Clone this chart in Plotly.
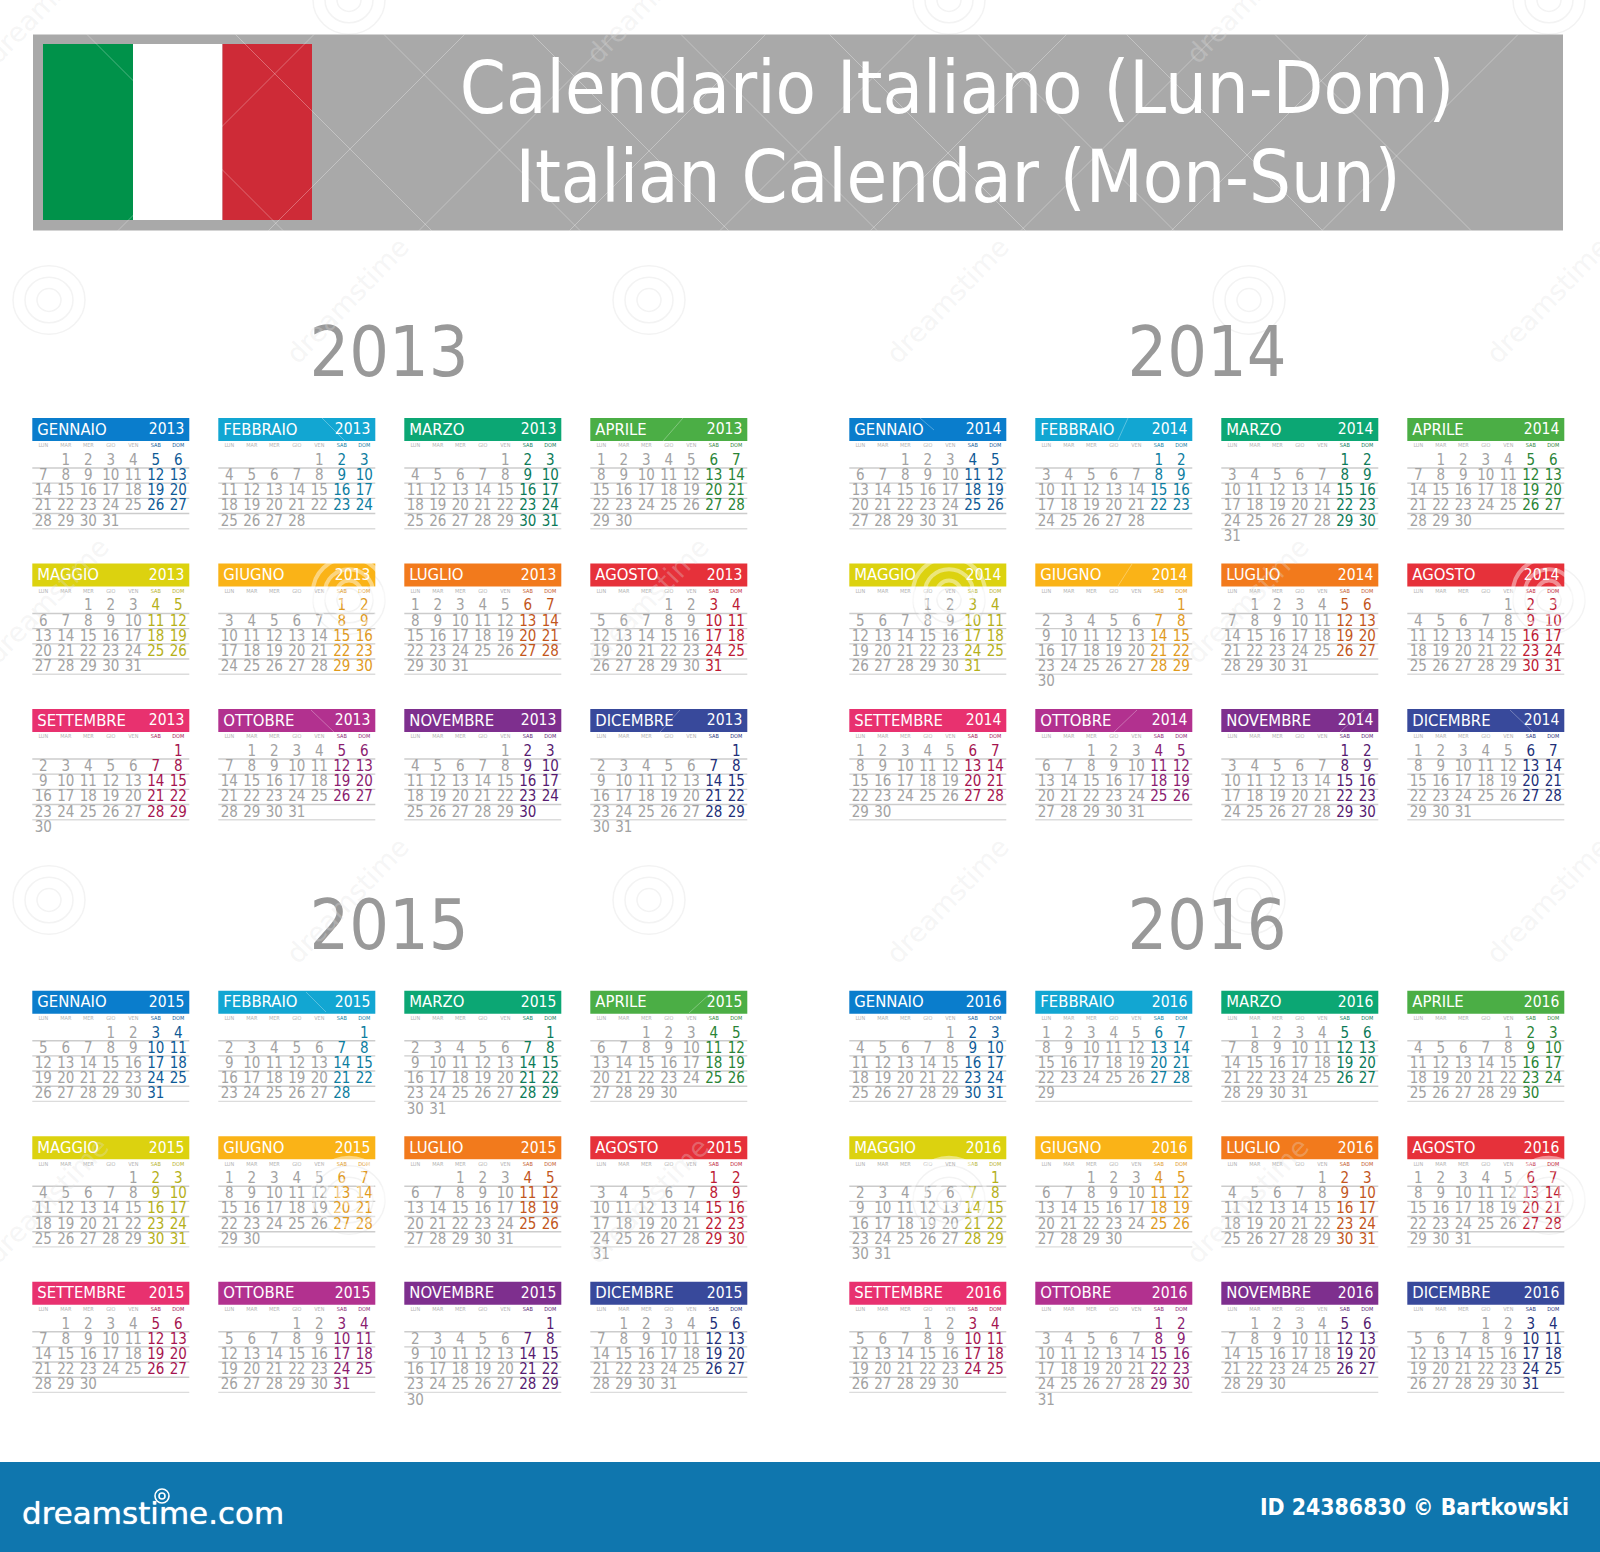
import plotly.graph_objects as go

# calendar content
YEARS = [2013, 2014, 2015, 2016]
MONTHS = ["GENNAIO", "FEBBRAIO", "MARZO", "APRILE", "MAGGIO", "GIUGNO", "LUGLIO", "AGOSTO",
          "SETTEMBRE", "OTTOBRE", "NOVEMBRE", "DICEMBRE"]
DAY_NAMES = ["LUN", "MAR", "MER", "GIO", "VEN", "SAB", "DOM"]
# column (0 = lunedi) that holds day 1 of each month
FIRST_COL_2013 = [1, 4, 4, 0, 2, 5, 0, 3, 6, 1, 4, 6]
FIRST_COL_2014 = [2, 5, 5, 1, 3, 6, 1, 4, 0, 2, 5, 0]
FIRST_COL_2015 = [3, 6, 6, 2, 4, 0, 2, 5, 1, 3, 6, 1]
FIRST_COL_2016 = [4, 0, 1, 4, 6, 2, 4, 0, 3, 5, 1, 3]
DAYS_2013 = [31, 28, 31, 30, 31, 30, 31, 31, 30, 31, 30, 31]
DAYS_2014 = [31, 28, 31, 30, 31, 30, 31, 31, 30, 31, 30, 31]
DAYS_2015 = [31, 28, 31, 30, 31, 30, 31, 31, 30, 31, 30, 31]
DAYS_2016 = [31, 29, 31, 30, 31, 30, 31, 31, 30, 31, 30, 31]
FIRST_COL = [FIRST_COL_2013, FIRST_COL_2014, FIRST_COL_2015, FIRST_COL_2016]
DAYS = [DAYS_2013, DAYS_2014, DAYS_2015, DAYS_2016]

TITLE_IT = "Calendario Italiano (Lun-Dom)"
TITLE_EN = "Italian Calendar (Mon-Sun)"
FOOT_LEFT = "dreamstime.com"
FOOT_RIGHT = "ID 24386830 © Bartkowski"

BAR_COLORS = ["#0a7dcc", "#12a6d2", "#0ca774", "#4bae45", "#dcd20f", "#fab317", "#f27a1c", "#e6313a",
              "#e8316f", "#b2318f", "#7e2f8e", "#38499b"]
WEEKEND_COLORS = ["#0e5a96", "#0d7d9f", "#0c7a58", "#2a8436", "#b5b01a", "#e09a1e", "#c2561c", "#bd1a34",
                  "#a5144f", "#8a1c70", "#561b70", "#222f78"]
GREY_DAY = "#a2a2a2"
GREY_NAME = "#b4b4b4"
FONT = "DejaVu Sans Condensed"

W, H = 1600, 1552
YEAR_X = [0, 817, 0, 817]
YEAR_Y = [0, 0, 572.7, 572.7]
YEAR_LABEL_X = [389, 1207, 389, 1207]
YEAR_LABEL_Y = [359, 359, 931.5, 931.5]
COL_STEP, ROW_STEP = 186, 145.5
BAR_W, BAR_H = 157, 23
CELL_W, CELL_H = 22.5, 15.17

# faint white strokes of the stock watermark seen across some month bars
BAR_STROKES = [(322, 418, 345, 441), (683, 418, 663, 441), (311, 710, 334, 732), (680, 710, 660, 732),
               (306, 992, 326, 1012), (712, 992, 689, 1013), (920, 418, 934, 430), (1128, 418, 1118, 440),
               (1132, 564, 1118, 586), (1137, 710, 1114, 732), (1510, 710, 1533, 732), (1364, 710, 1340, 732)]

shapes = []


def rect(x0, y0, x1, y1, color):
    shapes.append(dict(type="rect", layer="below", x0=x0, y0=y0, x1=x1, y1=y1,
                       fillcolor=color, line=dict(width=0)))


def line(x0, y0, x1, y1, color, width):
    shapes.append(dict(type="line", layer="below", x0=x0, y0=y0, x1=x1, y1=y1,
                       line=dict(color=color, width=width)))


def rings(cx, cy, color, width=1.5, layer="below"):
    for r in [36, 24, 12]:
        shapes.append(dict(type="circle", layer=layer, x0=cx - r, x1=cx + r, y0=cy - r * 0.95, y1=cy + r * 0.95,
                           line=dict(color=color, width=width)))


# watermark spirals under everything
spiral_pos = []
for ky in range(0, 3):
    for kx in range(0, 3):
        spiral_pos.append((49 + 600 * kx, 300 + 600 * ky))
        spiral_pos.append((349 + 600 * kx, 600 * ky))
for p in spiral_pos:
    rings(p[0], p[1], "#f3f3f3")

# title band + flag
rect(33, 34.5, 1563, 230.5, "#a9a9a9")
rect(43, 44, 133, 220, "#00924a")
rect(133, 44, 222.5, 220, "#ffffff")
rect(222.5, 44, 312, 220, "#ce2b37")

# text collected per kind, one trace each
day_x, day_y, day_t, day_c = [], [], [], []
name_x, name_y, name_t, name_c = [], [], [], []
head_l_x, head_l_y, head_l_t = [], [], []
head_r_x, head_r_y, head_r_t = [], [], []

for yi, year in enumerate(YEARS):
    for mi, month in enumerate(MONTHS):
        x0 = 32.3 + YEAR_X[yi] + (mi % 4) * COL_STEP
        y0 = 418 + YEAR_Y[yi] + (mi // 4) * ROW_STEP
        rect(x0, y0, x0 + BAR_W, y0 + BAR_H, BAR_COLORS[mi])
        head_l_x.append(x0 + 5)
        head_l_y.append(y0 + 12.5)
        head_l_t.append(month)
        head_r_x.append(x0 + BAR_W - 5)
        head_r_y.append(y0 + 12.5)
        head_r_t.append(str(year))
        for c, name in enumerate(DAY_NAMES):
            name_x.append(x0 + 11 + c * CELL_W)
            name_y.append(y0 + 28)
            name_t.append(name)
            name_c.append(WEEKEND_COLORS[mi] if c >= 5 else GREY_NAME)
        for r in range(5):
            line(x0, y0 + 50 + r * CELL_H, x0 + BAR_W, y0 + 50 + r * CELL_H, "#cccccc" if r < 4 else "#dcdcdc", 1.4)
        for d in range(DAYS[yi][mi]):
            pos = FIRST_COL[yi][mi] + d
            c = pos % 7
            day_x.append(x0 + 11 + c * CELL_W)
            day_y.append(y0 + 43.2 + (pos // 7) * CELL_H)
            day_t.append(str(d + 1))
            day_c.append(WEEKEND_COLORS[mi] if c >= 5 else GREY_DAY)

# white spirals on top, they fade the bars and digits like in the picture
for p in spiral_pos:
    if p[1] in (600, 1200):
        rings(p[0], p[1] - 8, "rgba(255,255,255,0.45)", 4, "above")

# diagonal strokes on the title band
wx, wy = [], []
for k in range(0, 14):
    c = 198 + 150.5 * k
    d = 96 - 148.5 * k
    if c - 230.5 >= 33 and c - 34.5 <= 1563:
        wx += [c - 34.5, c - 230.5, None]
        wy += [34.5, 230.5, None]
    if 34.5 - d >= 33 and 230.5 - d <= 1563:
        wx += [34.5 - d, 230.5 - d, None]
        wy += [34.5, 230.5, None]
for s in BAR_STROKES:
    wx += [s[0], s[2], None]
    wy += [s[1], s[3], None]

fig = go.Figure()


def text_trace(x, y, t, size, color, pos="middle center", family=FONT):
    fig.add_trace(go.Scatter(x=x, y=y, text=t, mode="text", textposition=pos,
                             textfont=dict(family=family, size=size, color=color),
                             hoverinfo="skip", showlegend=False))


text_trace(day_x, day_y, day_t, 15, day_c)
text_trace(name_x, name_y, name_t, 5.5, name_c)
text_trace(head_l_x, head_l_y, head_l_t, 16.5, "#ffffff", "middle right")
text_trace(head_r_x, head_r_y, head_r_t, 15.5, "#ffffff", "middle left")
text_trace(YEAR_LABEL_X, YEAR_LABEL_Y, [str(y) for y in YEARS], 69.5, "#999999")
text_trace([957], [95], [TITLE_IT], 73.5, "#ffffff")
text_trace([958], [184], [TITLE_EN], 73.5, "#ffffff")
fig.add_trace(go.Scatter(x=wx, y=wy, mode="lines", line=dict(color="rgba(255,255,255,0.3)", width=1),
                         hoverinfo="skip", showlegend=False))

# faint diagonal watermark words
annos = []
for ky in range(0, 3):
    for kx in range(0, 3):
        for cx, cy in [(347 + 600 * kx, 300 + 600 * ky), (47 + 600 * kx, 600 * ky)]:
            if cy >= 1500:
                continue
            for col in ["rgba(170,170,170,0.14)", "rgba(255,255,255,0.2)"]:
                annos.append(dict(x=cx, y=cy, text="dreamstime", showarrow=False, textangle=-46,
                                  font=dict(family="DejaVu Sans", size=27, color=col)))

# footer goes last in the above layer so nothing runs over it
shapes.append(dict(type="rect", layer="above", x0=0, y0=1462, x1=W, y1=H, fillcolor="#0f76ae", line=dict(width=0)))
annos.append(dict(x=20, y=1513, xanchor="left", text=FOOT_LEFT, showarrow=False,
                  font=dict(family="DejaVu Sans", size=31, color="white", shadow="0 0 1px white")))
annos.append(dict(x=1571, y=1507, xanchor="right", text=FOOT_RIGHT, showarrow=False,
                  font=dict(family="DejaVu Sans Condensed", size=22.8, color="white", weight="bold")))
for r in [7, 3]:
    shapes.append(dict(type="circle", layer="above", x0=162 - r, x1=162 + r, y0=1496 - r, y1=1496 + r,
                       line=dict(color="white", width=1.6)))

fig.update_layout(
    width=W, height=H,
    margin=dict(l=0, r=0, t=0, b=0),
    paper_bgcolor="white", plot_bgcolor="white",
    xaxis=dict(range=[0, W], visible=False, fixedrange=True),
    yaxis=dict(range=[H, 0], visible=False, fixedrange=True),
    shapes=shapes,
    annotations=annos,
    showlegend=False,
)
fig.write_html("out.html", config=dict(displayModeBar=False),
               post_script="document.body.style.margin='0';")
